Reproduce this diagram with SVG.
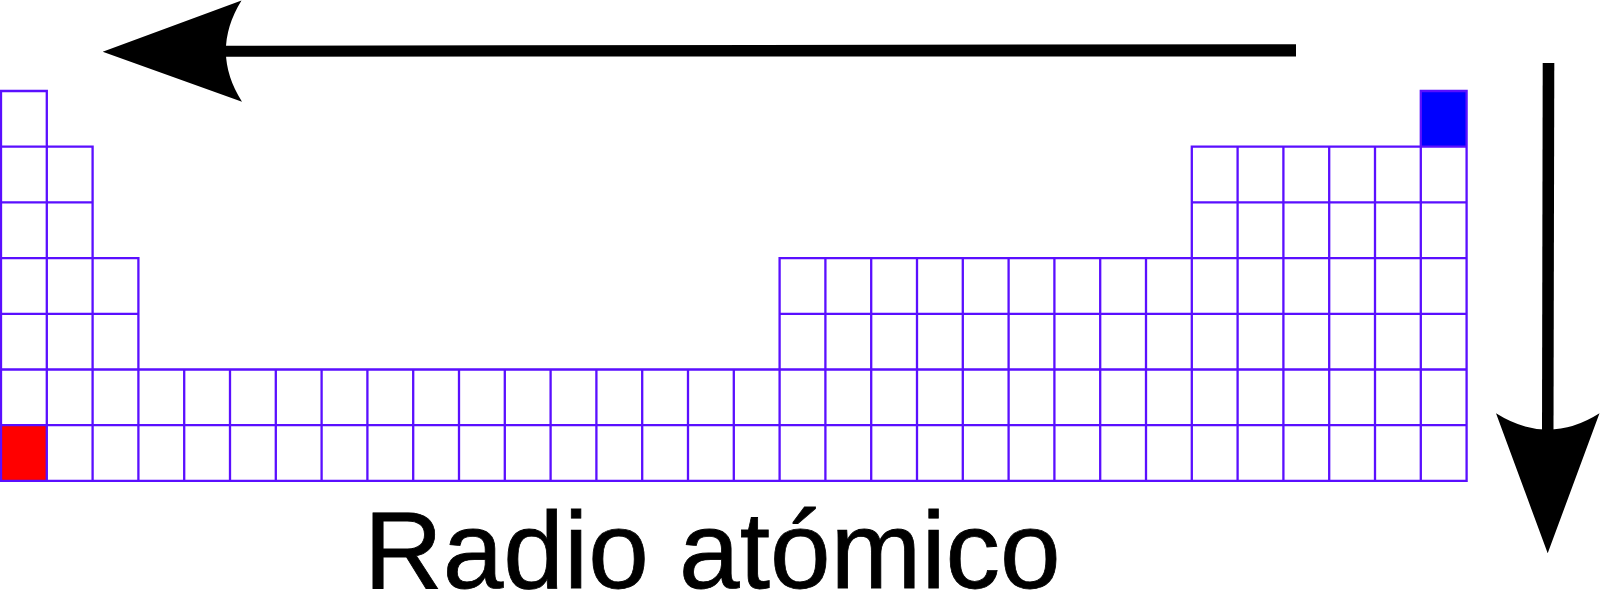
<svg xmlns="http://www.w3.org/2000/svg" width="1600" height="592" viewBox="0 0 1600 592">
<style>
.grid{fill:none;stroke:#5a0fff;stroke-width:2.3;stroke-linecap:square}
.arrow{fill:#000;stroke:none}
.label{font-family:"Liberation Sans",Arial,sans-serif;font-size:109px;fill:#000;stroke:#000;stroke-width:0.8}
</style>
<rect width="1600" height="592" fill="#fff"/>
<g id="highlight-cells">
<rect id="cell-red" x="1" y="425.2" width="45.8" height="55.7" fill="#ff0000"/>
<rect id="cell-blue" x="1420.8" y="91" width="45.8" height="55.7" fill="#0000ff"/>
</g>
<g id="table">
<path class="grid" d="M1,91V480.9 M46.8,91V480.9 M92.6,146.7V480.9 M138.4,258.1V480.9
M184.2,369.5V480.9 M230,369.5V480.9 M275.8,369.5V480.9 M321.6,369.5V480.9 M367.4,369.5V480.9 M413.2,369.5V480.9 M459,369.5V480.9 M504.8,369.5V480.9 M550.6,369.5V480.9 M596.4,369.5V480.9 M642.2,369.5V480.9 M688,369.5V480.9 M733.8,369.5V480.9
M779.6,258.1V480.9 M825.4,258.1V480.9 M871.2,258.1V480.9 M917,258.1V480.9 M962.8,258.1V480.9 M1008.6,258.1V480.9 M1054.4,258.1V480.9 M1100.2,258.1V480.9 M1146,258.1V480.9
M1191.8,146.7V480.9 M1237.6,146.7V480.9 M1283.4,146.7V480.9 M1329.2,146.7V480.9 M1375,146.7V480.9
M1420.8,91V480.9 M1466.6,91V480.9
M1,91H46.8 M1420.8,91H1466.6
M1,146.7H92.6 M1191.8,146.7H1466.6
M1,202.4H92.6 M1191.8,202.4H1466.6
M1,258.1H138.4 M779.6,258.1H1466.6
M1,313.8H138.4 M779.6,313.8H1466.6
M1,369.5H1466.6 M1,425.2H1466.6 M1,480.9H1466.6"/>
</g>
<g id="connectors">
<g id="arrow-left">
<polygon class="arrow" points="220,45.7 1296,44.2 1296,56.4 220,56.7"/>
<path class="arrow" d="M102.7,51.7 L241.5,0.5 Q210,51.5 242,101.7 Z"/>
</g>
<g id="arrow-down">
<polygon class="arrow" points="1542.7,63 1554.3,63 1553.5,432 1542,432"/>
<path class="arrow" d="M1547.7,553.3 L1496,413.3 Q1548,446 1599.5,413.3 Z"/>
</g>
</g>
<g id="caption">
<text class="label" x="364" y="588">Radio atómico</text>
</g>
</svg>
